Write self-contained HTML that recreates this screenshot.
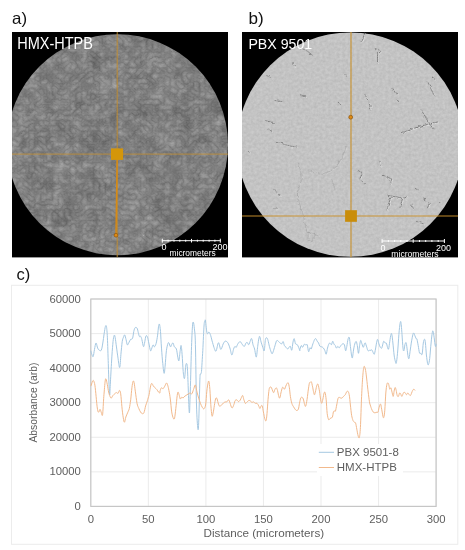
<!DOCTYPE html>
<html><head><meta charset="utf-8"><title>Figure</title>
<style>
html,body{margin:0;padding:0;background:#fff;}
body{width:465px;height:550px;position:relative;overflow:hidden;font-family:"Liberation Sans",sans-serif;}
svg{position:absolute;left:0;top:0;}
text{font-family:"Liberation Sans",sans-serif;}
</style></head><body>
<svg width="465" height="550" viewBox="0 0 465 550">
<defs>
<filter id="na" x="0" y="0" width="100%" height="100%" color-interpolation-filters="sRGB">
<feTurbulence type="turbulence" baseFrequency="0.17 0.19" numOctaves="2" seed="7"/>
<feColorMatrix type="matrix" values="0.2 0 0 0 0.31  0.2 0 0 0 0.31  0.2 0 0 0 0.31  0 0 0 0 1" result="t"/>
<feTurbulence type="fractalNoise" baseFrequency="0.04" numOctaves="2" seed="3"/>
<feColorMatrix type="matrix" values="0.12 0 0 0 0  0.12 0 0 0 0  0.12 0 0 0 0  0 0 0 0 1" result="f"/>
<feTurbulence type="fractalNoise" baseFrequency="0.11" numOctaves="1" seed="12"/>
<feColorMatrix type="matrix" values="0.16 0 0 0 0  0.16 0 0 0 0  0.16 0 0 0 0  0 0 0 0 1" result="g"/>
<feComposite in="t" in2="f" operator="arithmetic" k1="0" k2="1" k3="1" k4="0" result="tf"/>
<feComposite in="tf" in2="g" operator="arithmetic" k1="0" k2="1" k3="1" k4="0"/>
<feComposite in2="SourceGraphic" operator="in"/>
</filter>
<filter id="nb" x="0" y="0" width="100%" height="100%" color-interpolation-filters="sRGB">
<feTurbulence type="fractalNoise" baseFrequency="0.35" numOctaves="2" seed="11" result="n"/>
<feColorMatrix in="n" type="matrix" values="0.10 0 0 0 0.715  0.10 0 0 0 0.715  0.10 0 0 0 0.715  0 0 0 0 1"/>
<feComposite in2="SourceGraphic" operator="in"/>
</filter>
<filter id="wig" x="-5%" y="-5%" width="110%" height="110%">
<feTurbulence type="fractalNoise" baseFrequency="0.25" numOctaves="2" seed="5" result="w"/>
<feDisplacementMap in="SourceGraphic" in2="w" scale="3.2" xChannelSelector="R" yChannelSelector="G"/>
</filter>
<clipPath id="ca"><rect x="12" y="32" width="216" height="225.4"/></clipPath>
<clipPath id="cb"><rect x="242" y="32" width="216" height="225.4"/></clipPath>
</defs>
<!-- panel labels -->
<text x="12" y="23.7" font-size="16.5" fill="#111" textLength="15" lengthAdjust="spacingAndGlyphs">a)</text>
<text x="248.4" y="23.7" font-size="16.5" fill="#111" textLength="15.2" lengthAdjust="spacingAndGlyphs">b)</text>
<text x="16.6" y="280" font-size="16.5" fill="#111" textLength="13.8" lengthAdjust="spacingAndGlyphs">c)</text>
<!-- image a -->
<rect x="12" y="32" width="216" height="225.4" fill="#000"/>
<g clip-path="url(#ca)">
<circle cx="117.5" cy="144.75" r="110.5" fill="#7e7e7e" filter="url(#na)"/>
<line x1="117.3" y1="32" x2="117.3" y2="257.4" stroke="#c8902c" stroke-width="1.5" opacity="0.6"/>
<line x1="12" y1="154.2" x2="228" y2="154.2" stroke="#c8902c" stroke-width="1.3" opacity="0.6"/>
<line x1="117.2" y1="158" x2="116" y2="235" stroke="#d68a16" stroke-width="1.5"/>
<rect x="111" y="148.4" width="12.1" height="11.5" fill="#d4960a"/>
<circle cx="116" cy="235.2" r="1.9" fill="#e08a12" stroke="#8a5510" stroke-width="0.7"/>
</g>
<text x="17.2" y="48.5" font-size="15.7" fill="#fff" textLength="75.8" lengthAdjust="spacingAndGlyphs">HMX-HTPB</text>
<g stroke="#fff" stroke-width="1" fill="none">
<line x1="162" y1="240.7" x2="220.6" y2="240.7"/>
<path d="M162.3,238.7v4 M220.3,238.7v4 M168.1,239.7v2 M174,239.7v2 M179.8,239.7v2 M185.7,239.7v2 M191.5,238.9v3.6 M197.4,239.7v2 M203.2,239.7v2 M209.1,239.7v2 M214.9,239.7v2"/>
</g>
<text x="161.5" y="250.4" font-size="9" fill="#fff">0</text>
<text x="227.6" y="250.4" font-size="9" fill="#fff" text-anchor="end">200</text>
<text x="192.6" y="256.3" font-size="8.4" fill="#fff" text-anchor="middle">micrometers</text>
<!-- image b -->
<rect x="242" y="32" width="216" height="225.4" fill="#000"/>
<g clip-path="url(#cb)">
<ellipse cx="350.3" cy="144.6" rx="113.2" ry="112.2" fill="#bebebe" filter="url(#nb)"/>
<g filter="url(#wig)"><g fill="none" stroke="#f4f4f4" stroke-width="0.9" stroke-linecap="round" opacity="0.55" stroke-dasharray="1.6 1.1" transform="translate(0.8,0.7)">
<path d="M301,48.5Q307,50 313,55.7 M292.9,62.8L295.2,67.5 M266.8,75.8L272.8,78.1 M345,74.6L347.3,77 M301,94.7L304.7,95.9 M275,100.6L281,101.8 M337.8,101.8L341.4,105.3 M265.7,120.7L274,123 M268,129L271.6,131.4
M364.6,33.2L362.2,41.5 M375.2,48.6L381,51L377.6,54.5L377.6,62.8 M364.6,93.5L369.3,103L370.5,108.9 M393,88.8L396.5,94.7 M397.2,100.6L398.2,100.8 M428.4,82.9L434.3,95.9 M421.3,110L428.4,121.9L433.2,129 M402.4,132.5L419,126.6L437.9,121.9 M432,77L434.3,79.3
M277.5,142.4L289.3,145.9L296.4,147.1 M248.6,151.5L249.6,152.1 M273.9,189.7L276.3,191.6 M278.7,194.4L279.9,196.8 M275.1,208.6L277,210.5
M380,161.3L381.1,166 M358.6,170.8L362.2,173.1L359.8,179L364.6,183.8 M383.5,175.5L391.8,179L390.6,183.8 M388.2,195.6L395.3,196.8L404.8,198L407.1,196.8 M390.6,198L388.2,205.1L387,211 M402.4,199.1L400,207.4 M415.4,188.5L419,190.9 M423.7,199.1L429.6,202.7L427.3,208.6 M440.3,202.7L442.6,203.9 M411.9,205.1L413.1,208.6 M416.6,221.6L423.7,224"/>
<path stroke-width="0.5" opacity="0.6" d="M298.8,163.7Q302,175 301.1,182.6Q297,190 297.6,196.8L303.5,215.7L307,232.3L317.7,235.8 M308.2,232.3L315.3,234.6L313,241.7L308.2,240.5Z M308.2,170.8L320,174.3Q332,172 336.6,166Q343,157 346,147.1 M331.9,180.2L335.4,189.7"/>
</g><g id="cracks" fill="none" stroke="#2a2a2a" stroke-width="0.9" stroke-linecap="round" opacity="0.5" stroke-dasharray="1.6 1.1">
<path d="M301,48.5Q307,50 313,55.7 M292.9,62.8L295.2,67.5 M266.8,75.8L272.8,78.1 M345,74.6L347.3,77 M301,94.7L304.7,95.9 M275,100.6L281,101.8 M337.8,101.8L341.4,105.3 M265.7,120.7L274,123 M268,129L271.6,131.4
M364.6,33.2L362.2,41.5 M375.2,48.6L381,51L377.6,54.5L377.6,62.8 M364.6,93.5L369.3,103L370.5,108.9 M393,88.8L396.5,94.7 M397.2,100.6L398.2,100.8 M428.4,82.9L434.3,95.9 M421.3,110L428.4,121.9L433.2,129 M402.4,132.5L419,126.6L437.9,121.9 M432,77L434.3,79.3
M277.5,142.4L289.3,145.9L296.4,147.1 M248.6,151.5L249.6,152.1 M273.9,189.7L276.3,191.6 M278.7,194.4L279.9,196.8 M275.1,208.6L277,210.5
M380,161.3L381.1,166 M358.6,170.8L362.2,173.1L359.8,179L364.6,183.8 M383.5,175.5L391.8,179L390.6,183.8 M388.2,195.6L395.3,196.8L404.8,198L407.1,196.8 M390.6,198L388.2,205.1L387,211 M402.4,199.1L400,207.4 M415.4,188.5L419,190.9 M423.7,199.1L429.6,202.7L427.3,208.6 M440.3,202.7L442.6,203.9 M411.9,205.1L413.1,208.6 M416.6,221.6L423.7,224"/>
<path stroke-width="0.5" opacity="0.6" d="M298.8,163.7Q302,175 301.1,182.6Q297,190 297.6,196.8L303.5,215.7L307,232.3L317.7,235.8 M308.2,232.3L315.3,234.6L313,241.7L308.2,240.5Z M308.2,170.8L320,174.3Q332,172 336.6,166Q343,157 346,147.1 M331.9,180.2L335.4,189.7"/>
</g></g>
<line x1="351" y1="32" x2="351" y2="257.4" stroke="#c8902c" stroke-width="1.7" opacity="0.64"/>
<line x1="242" y1="216" x2="458" y2="216" stroke="#c8902c" stroke-width="1.5" opacity="0.64"/>
<rect x="345.1" y="210.2" width="11.8" height="11.6" fill="#c98d0a"/>
<circle cx="350.7" cy="117.2" r="1.9" fill="#e08a12" stroke="#8a5510" stroke-width="0.7"/>
</g>
<text x="248.4" y="48.5" font-size="15.5" fill="#fff" textLength="63.8" lengthAdjust="spacingAndGlyphs">PBX 9501</text>
<g stroke="#fff" stroke-width="1" fill="none">
<line x1="381.8" y1="241" x2="444.7" y2="241"/>
<path d="M382.1,239v4 M444.4,239v4 M388.3,240v2 M394.6,240v2 M400.8,240v2 M407,240v2 M413.2,239.2v3.6 M419.5,240v2 M425.7,240v2 M431.9,240v2 M438.2,240v2"/>
</g>
<text x="380.6" y="250.6" font-size="9" fill="#fff">0</text>
<text x="451" y="250.6" font-size="9" fill="#fff" text-anchor="end">200</text>
<text x="415" y="256.6" font-size="8.6" fill="#fff" text-anchor="middle">micrometers</text>
<!-- chart -->
<rect x="11.5" y="285.3" width="446.3" height="259" fill="#fff" stroke="#ececec" stroke-width="1"/>
<g stroke="#e9e9e9" stroke-width="0.9"><line x1="90.8" y1="506.40" x2="436.1" y2="506.40"/><line x1="90.8" y1="471.83" x2="436.1" y2="471.83"/><line x1="90.8" y1="437.27" x2="436.1" y2="437.27"/><line x1="90.8" y1="402.70" x2="436.1" y2="402.70"/><line x1="90.8" y1="368.13" x2="436.1" y2="368.13"/><line x1="90.8" y1="333.57" x2="436.1" y2="333.57"/><line x1="90.8" y1="299.00" x2="436.1" y2="299.00"/><line x1="90.80" y1="299.0" x2="90.80" y2="506.4"/><line x1="148.35" y1="299.0" x2="148.35" y2="506.4"/><line x1="205.90" y1="299.0" x2="205.90" y2="506.4"/><line x1="263.45" y1="299.0" x2="263.45" y2="506.4"/><line x1="321.00" y1="299.0" x2="321.00" y2="506.4"/><line x1="378.55" y1="299.0" x2="378.55" y2="506.4"/><line x1="436.10" y1="299.0" x2="436.10" y2="506.4"/></g>
<rect x="90.8" y="299.0" width="345.3" height="207.4" fill="none" stroke="#c4c4c4" stroke-width="1.1"/>
<path d="M90.8,350.7C91.0,351.4 91.5,353.6 91.9,354.6C92.3,355.5 92.7,357.4 93.2,356.5C93.6,355.7 94.0,351.7 94.5,349.4C94.9,347.2 95.5,343.2 96.0,343.0C96.5,342.8 97.1,346.9 97.7,348.1C98.2,349.4 98.8,350.0 99.4,350.3C100.0,350.6 100.7,351.3 101.3,350.1C101.9,348.8 102.4,345.7 102.8,343.0C103.3,340.3 103.7,336.7 104.1,333.9C104.6,331.2 105.0,327.6 105.4,326.5C105.8,325.3 106.1,324.9 106.5,326.8C106.8,328.7 107.1,331.7 107.4,337.8C107.7,343.9 108.0,355.9 108.3,363.6C108.5,371.4 108.8,379.0 109.0,384.3C109.3,389.5 109.5,395.0 109.7,395.0C109.9,395.0 110.0,389.9 110.3,384.3C110.6,378.6 111.2,367.7 111.6,361.0C112.0,354.4 112.4,348.3 112.8,344.3C113.1,340.2 113.5,337.9 113.8,336.5C114.2,335.1 114.5,334.6 114.8,335.9C115.2,337.2 115.7,340.9 116.1,344.3C116.6,347.6 117.1,352.0 117.7,355.9C118.3,359.7 119.1,367.7 119.6,367.5C120.2,367.3 120.5,358.9 120.9,354.6C121.3,350.3 121.8,344.6 122.2,341.7C122.6,338.8 123.1,338.3 123.5,337.2C123.9,336.0 124.3,334.5 124.8,335.0C125.2,335.4 125.6,338.1 126.1,339.7C126.5,341.4 126.9,344.5 127.4,344.9C127.8,345.3 128.5,343.2 129.0,342.3C129.6,341.4 130.0,340.0 130.6,339.4C131.2,338.7 132.0,339.8 132.5,338.5C133.1,337.1 133.4,333.1 133.8,331.4C134.2,329.6 134.6,328.3 135.1,327.7C135.6,327.2 136.5,327.3 137.0,328.1C137.6,328.9 137.9,331.2 138.3,332.6C138.7,334.0 139.0,335.9 139.4,336.5C139.7,337.1 140.2,335.7 140.6,336.3C141.1,336.8 141.5,338.0 141.9,339.7C142.4,341.5 143.0,346.3 143.5,346.6C144.0,346.9 144.4,343.5 144.8,341.7C145.2,339.9 145.5,336.6 146.0,335.9C146.5,335.1 147.1,336.0 147.5,337.2C148.0,338.3 148.3,340.7 148.8,343.0C149.3,345.2 150.0,349.8 150.5,350.7C151.0,351.6 151.4,349.1 151.8,348.1C152.2,347.2 152.7,345.1 153.1,344.9C153.5,344.7 153.9,347.1 154.4,346.8C154.9,346.6 155.5,345.5 156.1,343.6C156.6,341.7 157.2,338.1 157.6,335.2C158.0,332.3 158.3,328.0 158.6,326.2C159.0,324.4 159.2,323.4 159.5,324.3C159.8,325.1 160.1,327.4 160.5,331.4C160.8,335.3 161.1,342.8 161.5,348.1C161.9,353.5 162.3,359.4 162.8,363.6C163.2,367.8 163.7,372.9 164.1,373.3C164.5,373.7 164.7,370.0 165.1,366.2C165.5,362.4 165.9,354.5 166.4,350.7C166.9,346.9 167.5,344.9 167.9,343.6C168.4,342.3 168.5,342.4 169.0,343.0C169.4,343.5 170.0,346.6 170.5,346.8C171.0,347.1 171.4,344.9 171.8,344.3C172.2,343.6 172.7,342.5 173.1,343.0C173.5,343.4 173.8,345.9 174.4,346.8C174.9,347.8 175.8,347.3 176.3,348.8C176.9,350.3 177.2,353.9 177.6,355.9C178.0,357.9 178.5,361.6 178.9,360.8C179.3,359.9 179.8,353.2 180.2,350.7C180.6,348.2 180.8,344.9 181.1,345.5C181.4,346.2 181.8,350.3 182.1,354.6C182.5,358.9 182.8,367.4 183.2,371.4C183.5,375.3 184.0,379.3 184.5,378.5C184.9,377.6 185.4,368.7 185.7,366.2C186.1,363.7 186.3,363.0 186.6,363.6C186.9,364.3 187.1,362.0 187.5,370.1C188.0,378.1 188.8,407.5 189.2,411.9C189.7,416.3 189.7,406.6 190.1,396.4C190.5,386.2 191.0,362.4 191.4,350.7C191.8,339.0 192.1,330.9 192.5,326.2C192.8,321.5 193.0,321.9 193.4,322.3C193.7,322.8 194.0,325.1 194.4,328.8C194.7,332.4 195.1,331.6 195.4,344.3C195.8,357.0 196.1,391.0 196.5,405.0C196.9,419.0 197.5,425.4 197.8,428.2C198.2,431.1 198.4,430.4 198.7,422.2C199.1,414.0 199.6,387.2 199.9,379.2C200.2,371.2 200.3,375.4 200.6,374.0C200.9,372.7 201.1,375.2 201.5,371.4C201.8,367.5 202.3,358.5 202.8,350.7C203.2,343.0 203.7,329.9 204.1,324.9C204.5,319.9 204.9,321.4 205.1,320.8C205.3,320.1 205.1,318.9 205.5,321.0C205.8,323.1 206.5,331.4 207.1,333.3C207.7,335.1 208.4,331.7 209.0,332.1C209.6,332.5 210.1,333.9 210.7,335.6C211.3,337.4 211.9,340.6 212.6,342.7C213.2,344.9 213.9,347.3 214.4,348.6C215.0,350.0 215.4,352.0 216.1,351.0C216.8,350.0 217.7,343.0 218.5,342.7C219.3,342.5 220.0,349.2 220.8,349.4C221.6,349.5 222.5,345.3 223.2,343.9C223.9,342.6 224.4,341.6 225.0,341.2C225.6,340.9 226.1,341.2 226.7,341.6C227.3,342.0 227.9,342.6 228.4,343.8C229.0,345.1 229.6,347.1 230.2,349.0C230.7,350.9 231.3,355.0 231.9,355.0C232.5,355.0 233.1,350.4 233.6,349.0C234.1,347.6 234.5,346.7 235.0,346.4C235.4,346.1 235.7,347.7 236.2,347.3C236.7,346.8 237.2,344.8 237.9,343.8C238.6,342.9 239.4,341.5 240.1,341.6C240.9,341.7 241.5,343.5 242.2,344.3C242.9,345.1 243.6,346.6 244.3,346.4C244.9,346.2 245.5,343.6 246.0,343.0C246.5,342.3 246.9,342.3 247.4,342.6C247.8,342.9 248.2,345.1 248.7,344.7C249.3,344.3 250.0,341.4 250.5,340.4C250.9,339.4 251.2,337.9 251.7,338.7C252.1,339.4 252.6,343.0 253.0,344.7C253.5,346.4 254.0,346.9 254.6,349.0C255.1,351.1 255.8,357.5 256.3,357.1C256.8,356.6 257.2,349.7 257.7,346.4C258.1,343.1 258.7,339.0 259.1,337.5C259.4,335.9 259.6,336.2 259.9,336.9C260.3,337.7 260.6,340.4 261.1,342.1C261.6,343.8 262.3,345.8 262.8,347.3C263.4,348.7 263.8,352.0 264.2,350.7C264.7,349.4 265.0,341.7 265.4,339.5C265.9,337.4 266.4,337.7 266.8,337.8C267.2,337.9 267.6,339.0 268.0,340.4C268.4,341.8 268.9,344.5 269.4,346.4C269.9,348.3 270.6,350.7 271.1,351.9C271.6,353.1 271.8,354.1 272.3,353.6C272.8,353.1 273.5,350.8 274.0,349.0C274.6,347.2 275.3,344.4 275.8,343.0C276.2,341.5 276.5,340.6 277.0,340.4C277.4,340.2 278.1,341.1 278.7,341.6C279.3,342.1 279.9,342.9 280.4,343.3C280.9,343.7 281.3,344.1 281.8,343.8C282.2,343.5 282.7,341.3 283.2,341.6C283.6,341.9 283.9,344.6 284.4,345.5C284.8,346.5 285.5,346.7 286.1,347.3C286.6,347.8 287.3,349.0 287.8,349.0C288.3,349.0 288.6,347.7 289.0,347.3C289.4,346.8 289.9,345.9 290.4,346.4C290.8,346.9 291.3,350.9 291.8,350.2C292.2,349.5 292.6,344.0 293.0,342.1C293.4,340.2 293.7,338.4 294.2,338.7C294.6,339.0 295.0,342.8 295.5,343.8C296.1,344.8 296.7,344.1 297.3,344.7C297.8,345.3 298.2,346.3 298.6,347.3C299.1,348.3 299.6,350.4 299.8,350.7C300.1,351.0 299.7,349.8 300.0,349.0C300.3,348.1 300.9,345.8 301.4,345.5C301.8,345.3 302.1,347.5 302.6,347.3C303.1,347.1 303.7,344.7 304.3,344.3C304.9,344.0 305.5,345.0 306.0,345.0C306.5,345.1 306.8,343.6 307.2,344.7C307.7,345.8 308.1,351.1 308.6,351.6C309.1,352.1 309.5,348.2 310.0,347.8C310.4,347.4 310.7,349.6 311.2,349.0C311.7,348.3 312.3,345.4 312.9,343.8C313.5,342.3 314.1,340.4 314.6,339.5C315.1,338.7 315.4,338.4 315.8,338.7C316.3,339.0 316.7,340.5 317.2,341.2C317.7,342.0 318.2,342.2 318.6,343.0C319.0,343.8 319.3,345.4 319.8,346.1C320.3,346.7 320.9,346.5 321.5,346.8C322.1,347.0 322.7,347.1 323.2,347.8C323.8,348.4 324.5,349.6 324.9,350.7C325.4,351.8 325.7,354.6 326.2,354.2C326.6,353.7 327.1,349.8 327.5,348.1C328.0,346.4 328.5,344.6 328.9,343.8C329.3,343.0 329.7,343.2 330.1,343.3C330.5,343.5 331.1,345.0 331.5,344.7C331.9,344.3 332.3,341.3 332.7,341.2C333.1,341.2 333.6,343.6 334.1,344.3C334.5,345.1 334.9,344.9 335.3,345.5C335.7,346.2 336.0,348.0 336.5,348.1C336.9,348.3 337.4,346.5 337.8,346.4C338.3,346.4 338.7,347.9 339.2,347.8C339.7,347.6 340.4,346.2 340.9,345.5C341.5,344.9 342.1,344.0 342.7,343.8C343.2,343.7 343.9,343.5 344.4,344.7C344.9,345.8 345.2,350.4 345.6,350.7C346.0,351.0 346.4,348.4 346.8,346.4C347.2,344.4 347.7,340.1 348.2,338.7C348.6,337.2 349.0,336.5 349.4,337.8C349.7,339.1 350.0,343.4 350.4,346.4C350.8,349.4 351.3,354.0 351.6,355.9C352.0,357.7 352.1,358.7 352.5,357.6C352.8,356.4 353.2,351.4 353.7,349.0C354.1,346.6 354.6,344.2 355.1,343.0C355.5,341.7 355.9,341.2 356.3,341.6C356.6,342.0 356.9,343.6 357.3,345.5C357.7,347.5 358.1,353.4 358.5,353.3C358.9,353.1 359.3,346.8 359.7,344.7C360.1,342.5 360.4,340.5 360.7,340.4C361.1,340.2 361.5,342.7 361.9,343.8C362.4,345.0 362.9,347.3 363.3,347.3C363.7,347.3 364.2,344.5 364.5,343.8C364.9,343.1 365.0,342.4 365.4,343.0C365.7,343.5 366.3,346.0 366.8,347.3C367.2,348.6 367.5,350.2 368.0,350.7C368.4,351.2 369.3,350.2 369.7,350.2C370.0,350.2 369.7,350.8 370.0,350.7C370.3,350.7 371.2,349.6 371.7,349.8C372.2,350.1 372.7,351.7 373.1,352.4C373.5,353.1 373.9,354.7 374.3,354.2C374.7,353.6 375.1,351.1 375.5,349.0C375.9,346.8 376.5,342.8 376.9,341.2C377.3,339.7 377.4,339.1 377.7,339.5C378.1,340.0 378.5,342.5 378.9,343.8C379.4,345.1 379.9,346.6 380.3,347.3C380.8,348.0 381.3,348.7 381.7,348.1C382.1,347.6 382.6,345.0 382.9,343.8C383.2,342.7 383.4,341.4 383.8,341.2C384.1,341.1 384.7,342.7 385.1,343.0C385.6,343.3 385.9,342.3 386.3,343.0C386.7,343.7 387.2,346.3 387.5,347.3C387.9,348.3 388.2,350.0 388.6,349.0C389.0,348.0 389.4,343.7 389.8,341.2C390.2,338.8 390.6,335.5 391.0,334.4C391.3,333.2 391.5,332.9 391.8,334.4C392.2,335.8 392.5,339.5 392.9,343.0C393.3,346.4 393.7,351.9 394.1,355.0C394.5,358.2 395.1,360.6 395.5,361.9C395.8,363.2 396.0,364.2 396.3,362.8C396.7,361.3 397.1,358.0 397.5,353.3C398.0,348.6 398.5,339.4 398.9,334.4C399.3,329.3 399.8,325.1 400.1,323.2C400.5,321.2 400.7,320.8 401.0,322.7C401.3,324.5 401.7,330.1 402.0,334.4C402.3,338.6 402.7,345.4 403.0,348.1C403.3,350.9 403.6,351.3 403.9,350.7C404.2,350.1 404.6,346.0 404.9,344.7C405.3,343.3 405.8,342.1 406.1,342.6C406.5,343.2 406.6,345.7 407.0,348.1C407.3,350.5 407.8,355.4 408.2,357.1C408.5,358.7 408.7,359.5 409.1,358.1C409.4,356.8 409.9,352.4 410.4,349.0C410.9,345.6 411.6,340.5 412.2,337.8C412.7,335.1 413.1,333.4 413.5,333.0C414.0,332.6 414.3,334.3 414.7,335.2C415.2,336.2 415.7,338.0 416.1,338.7C416.5,339.3 416.6,338.0 417.0,339.2C417.3,340.3 417.7,343.3 418.2,345.5C418.6,347.8 419.1,351.7 419.5,352.9C420.0,354.2 420.3,353.1 420.8,353.3C421.2,353.5 421.7,355.9 422.1,354.2C422.6,352.4 422.9,345.5 423.3,343.0C423.7,340.5 424.2,339.2 424.5,339.2C424.9,339.2 425.1,340.3 425.4,343.0C425.7,345.6 426.1,351.6 426.4,355.0C426.8,358.5 427.3,362.0 427.6,363.6C428.0,365.2 428.2,365.3 428.5,364.5C428.8,363.6 429.3,362.0 429.7,358.5C430.1,354.9 430.6,347.3 431.1,343.0C431.5,338.7 431.9,334.6 432.3,332.6C432.6,330.7 432.8,330.4 433.1,331.3C433.5,332.1 433.8,335.3 434.2,337.8C434.5,340.3 435.0,345.4 435.4,346.4C435.7,347.4 436.1,344.3 436.2,343.8" fill="none" stroke="#a5c8e2" stroke-width="1" stroke-linejoin="round"/>
<path d="M90.9,386.1C91.2,385.4 91.9,382.7 92.3,381.8C92.7,380.9 93.1,380.0 93.5,380.6C93.9,381.2 94.5,382.6 94.9,385.2C95.3,387.9 95.7,392.4 96.1,396.4C96.5,400.4 97.0,406.7 97.5,409.3C97.9,411.9 98.2,412.2 98.7,412.2C99.1,412.2 99.6,409.2 100.0,409.3C100.5,409.4 101.0,411.9 101.4,412.8C101.8,413.6 102.2,417.2 102.6,414.5C103.0,411.7 103.4,402.0 103.8,396.4C104.3,390.8 104.8,383.8 105.2,380.9C105.6,378.1 105.7,378.6 106.1,379.2C106.4,379.8 106.8,382.2 107.3,384.4C107.7,386.5 108.2,390.1 108.6,392.1C109.1,394.1 109.6,395.4 110.0,396.4C110.5,397.4 110.7,398.3 111.2,398.1C111.7,398.0 112.4,396.3 112.9,395.5C113.5,394.8 114.1,394.3 114.7,393.8C115.2,393.3 115.8,392.7 116.4,392.6C117.0,392.5 117.6,393.7 118.1,393.3C118.6,392.9 119.1,390.3 119.5,390.4C119.9,390.5 120.3,391.1 120.7,393.8C121.1,396.6 121.5,402.7 121.9,406.7C122.3,410.7 122.8,415.3 123.3,417.9C123.7,420.5 124.0,422.4 124.5,422.2C124.9,422.1 125.3,418.6 125.8,417.1C126.4,415.5 127.0,414.2 127.6,412.8C128.1,411.3 128.8,410.6 129.3,408.5C129.8,406.3 130.2,403.3 130.7,399.8C131.1,396.4 131.5,390.9 131.9,387.8C132.3,384.7 132.7,382.1 133.1,381.3C133.4,380.4 133.7,381.0 134.1,382.6C134.5,384.3 134.8,387.8 135.3,391.2C135.8,394.7 136.5,400.4 137.0,403.3C137.6,406.2 138.2,407.0 138.8,408.5C139.3,409.9 139.9,411.0 140.5,411.9C141.0,412.8 141.6,413.5 142.2,413.6C142.8,413.8 143.3,414.0 143.9,412.8C144.5,411.5 145.1,407.9 145.6,405.9C146.2,403.9 146.8,402.6 147.4,400.7C147.9,398.8 148.5,397.3 149.1,394.7C149.6,392.1 150.3,387.1 150.8,385.2C151.3,383.4 151.6,383.4 152.0,383.5C152.4,383.6 152.9,385.4 153.4,386.1C153.9,386.8 154.5,387.2 155.1,387.8C155.7,388.4 156.2,388.8 156.8,389.5C157.4,390.2 158.0,391.5 158.5,392.1C159.1,392.7 159.7,393.1 159.9,393.0C160.2,392.8 159.8,392.1 160.0,391.2C160.2,390.4 160.9,388.2 161.4,387.8C161.9,387.4 162.5,389.0 163.1,388.7C163.7,388.4 164.2,387.0 164.8,386.1C165.4,385.1 166.1,383.1 166.5,383.0C167.0,382.8 167.3,384.0 167.7,385.2C168.1,386.5 168.5,388.1 168.9,390.4C169.4,392.7 169.9,395.4 170.3,399.0C170.8,402.6 171.2,408.7 171.7,411.9C172.2,415.1 172.9,417.4 173.4,418.4C173.9,419.4 174.2,419.6 174.6,417.9C175.0,416.3 175.4,412.2 175.8,408.5C176.3,404.7 176.8,398.3 177.2,395.5C177.6,392.8 177.7,392.1 178.1,392.1C178.4,392.1 178.9,394.4 179.3,395.5C179.6,396.7 179.9,398.7 180.3,399.0C180.7,399.3 181.0,397.5 181.5,397.3C182.0,397.1 182.7,398.0 183.2,397.8C183.8,397.6 184.4,396.5 184.9,396.1C185.5,395.6 186.1,395.4 186.7,395.0C187.2,394.7 187.8,394.2 188.4,393.8C189.0,393.5 189.5,393.0 190.1,393.0C190.7,393.0 191.3,394.4 191.8,393.8C192.4,393.3 193.0,391.0 193.5,389.5C194.1,388.1 194.6,385.8 194.9,385.2C195.3,384.7 195.4,384.9 195.8,386.1C196.1,387.2 196.5,390.1 197.0,392.1C197.5,394.1 198.1,396.3 198.7,398.1C199.3,400.0 199.9,401.8 200.4,403.3C201.0,404.8 201.6,406.2 202.2,407.1C202.7,408.0 203.3,409.1 203.9,408.8C204.4,408.5 205.1,407.9 205.6,405.0C206.1,402.1 206.4,395.0 206.8,391.2C207.2,387.5 207.8,383.9 208.2,382.3C208.5,380.7 208.7,380.6 209.0,381.8C209.3,383.0 209.5,385.1 209.9,389.5C210.2,394.0 210.7,404.0 211.1,408.5C211.5,412.9 211.8,415.6 212.1,416.2C212.5,416.8 212.9,414.0 213.3,411.9C213.8,409.7 214.3,405.6 214.7,403.3C215.1,401.0 215.5,398.8 215.9,398.1C216.3,397.4 216.7,398.0 217.1,399.0C217.5,400.0 218.0,402.9 218.5,404.2C219.0,405.4 219.4,406.3 219.9,406.4C220.4,406.5 221.0,405.2 221.6,404.7C222.2,404.2 222.7,403.7 223.3,403.3C223.9,402.8 224.5,402.1 225.0,401.9C225.6,401.7 226.2,402.3 226.8,401.9C227.3,401.6 228.0,399.8 228.5,399.8C229.0,399.8 229.2,400.7 229.7,401.9C230.2,403.1 230.9,406.1 231.4,407.1C231.9,408.0 232.1,408.2 232.6,407.6C233.1,407.0 233.9,404.4 234.3,403.3C234.7,402.1 234.6,401.3 235.0,400.7C235.4,400.1 236.1,399.7 236.7,399.8C237.3,400.0 237.9,401.5 238.4,401.6C239.0,401.6 239.6,400.9 240.2,400.2C240.7,399.5 241.1,398.0 241.5,397.3C242.0,396.5 242.3,395.1 242.7,395.5C243.1,396.0 243.5,398.6 243.9,399.8C244.4,401.1 244.9,402.9 245.3,403.3C245.8,403.7 246.2,402.9 246.7,402.4C247.2,402.0 247.8,401.0 248.4,400.7C249.0,400.4 249.6,400.4 250.1,400.7C250.7,401.0 251.3,402.2 251.9,402.4C252.4,402.6 253.0,401.8 253.6,401.9C254.2,402.1 254.7,403.1 255.3,403.3C255.9,403.5 256.4,402.9 257.0,403.3C257.6,403.7 258.3,405.0 258.7,405.9C259.2,406.7 259.5,408.5 259.9,408.5C260.3,408.5 260.8,406.3 261.2,405.9C261.5,405.4 261.8,404.9 262.2,405.9C262.6,406.9 263.0,409.9 263.4,411.9C263.8,413.9 264.2,416.4 264.6,417.9C265.0,419.4 265.6,421.6 266.0,420.8C266.4,420.1 266.7,417.1 267.0,413.6C267.3,410.1 267.7,403.9 268.0,399.8C268.4,395.8 268.7,391.7 269.1,389.5C269.4,387.4 269.9,387.2 270.3,386.9C270.7,386.7 271.0,387.1 271.5,387.8C271.9,388.5 272.5,390.4 272.8,391.2C273.2,392.1 273.4,392.9 273.7,392.6C274.1,392.3 274.5,390.3 274.9,389.5C275.3,388.7 275.9,387.7 276.3,387.8C276.7,387.9 277.1,389.1 277.5,390.4C277.9,391.7 278.2,394.3 278.5,395.5C278.9,396.8 279.3,398.6 279.7,398.1C280.1,397.7 280.5,394.7 280.9,393.0C281.4,391.2 281.9,388.7 282.3,387.8C282.7,386.9 282.8,387.2 283.2,387.5C283.5,387.7 284.1,389.4 284.5,389.2C285.0,389.0 285.3,387.0 285.8,386.1C286.2,385.1 286.7,384.0 287.1,383.5C287.6,383.0 288.0,382.3 288.3,383.0C288.7,383.7 289.0,385.6 289.4,387.8C289.7,390.0 290.0,393.8 290.4,396.4C290.8,399.0 291.3,401.6 291.8,403.3C292.3,405.0 292.9,405.7 293.5,406.7C294.1,407.7 294.7,408.7 295.2,409.3C295.7,409.9 296.1,410.5 296.6,410.5C297.1,410.5 297.8,410.5 298.3,409.3C298.8,408.1 299.1,405.2 299.5,403.3C299.9,401.4 300.3,399.1 300.7,398.1C301.2,397.1 301.7,397.1 302.1,397.3C302.5,397.4 302.9,398.0 303.3,399.0C303.7,400.0 304.0,402.1 304.3,403.3C304.7,404.5 305.1,406.7 305.5,406.4C305.9,406.1 306.3,404.1 306.7,401.6C307.2,399.0 307.7,394.3 308.1,391.2C308.5,388.2 309.0,384.9 309.3,383.5C309.6,382.1 309.7,382.9 310.0,382.6C310.3,382.4 310.9,381.1 311.4,381.8C311.8,382.5 312.1,384.8 312.6,386.9C313.1,389.1 313.8,394.1 314.3,394.7C314.8,395.3 315.2,392.0 315.7,390.4C316.1,388.8 316.5,386.2 316.9,385.2C317.3,384.2 317.7,383.4 318.1,384.4C318.5,385.4 319.0,388.7 319.5,391.2C319.9,393.8 320.3,397.8 320.7,399.8C321.0,401.9 321.3,403.4 321.7,403.3C322.1,403.1 322.5,400.7 322.9,399.0C323.3,397.3 323.7,394.0 324.1,393.0C324.5,391.9 324.8,391.5 325.1,392.6C325.5,393.8 325.8,396.4 326.2,399.8C326.5,403.3 326.8,410.3 327.2,413.6C327.6,416.9 328.2,418.8 328.6,419.6C329.0,420.5 329.4,419.1 329.8,418.8C330.2,418.5 330.6,418.2 331.0,417.9C331.4,417.6 332.0,418.1 332.4,417.1C332.8,416.1 333.1,412.9 333.4,411.9C333.7,410.9 334.1,411.2 334.4,411.0C334.8,410.9 335.1,412.0 335.5,411.0C335.8,410.0 336.3,407.0 336.7,405.0C337.1,403.0 337.5,400.3 337.9,399.0C338.2,397.7 338.5,397.5 338.9,397.3C339.3,397.1 339.6,397.6 340.1,397.8C340.6,397.9 341.3,398.4 341.8,398.1C342.4,397.9 343.0,397.0 343.5,396.4C344.1,395.8 344.8,395.4 345.3,394.7C345.8,394.0 346.0,392.7 346.5,392.1C346.9,391.5 347.4,390.8 347.8,391.2C348.3,391.7 348.8,392.4 349.2,394.7C349.7,397.0 350.0,401.6 350.4,405.0C350.8,408.5 351.2,412.8 351.6,415.3C352.1,417.9 352.6,419.3 353.0,420.5C353.5,421.6 354.0,421.8 354.4,422.2C354.8,422.6 355.2,421.9 355.6,423.1C356.0,424.2 356.4,426.9 356.8,429.1C357.2,431.2 357.7,434.6 358.2,436.0C358.6,437.4 359.0,438.8 359.4,437.4C359.7,435.9 360.0,434.2 360.4,427.4C360.8,420.6 361.2,405.0 361.6,396.4C362.0,387.8 362.4,380.6 362.8,375.8C363.2,370.9 363.5,368.6 363.8,367.2C364.2,365.7 364.4,366.3 364.7,367.2C365.1,368.0 365.5,369.5 365.9,372.3C366.3,375.2 366.9,380.6 367.3,384.4C367.7,388.1 368.1,391.5 368.5,394.7C368.9,397.8 369.4,401.7 369.7,403.3C369.9,404.9 369.7,403.3 370.0,404.2C370.3,405.0 370.9,407.2 371.4,408.5C371.9,409.7 372.5,411.2 373.1,411.9C373.7,412.6 374.2,412.7 374.8,412.8C375.4,412.8 376.3,412.4 376.9,412.2C377.4,412.1 377.7,413.0 378.1,411.9C378.5,410.8 379.0,407.2 379.5,405.9C379.9,404.6 380.3,403.6 380.7,404.2C381.0,404.7 381.3,407.3 381.7,409.3C382.1,411.3 382.6,414.8 382.9,416.2C383.2,417.5 383.4,418.4 383.8,417.4C384.1,416.4 384.5,414.2 384.8,410.2C385.1,406.1 385.5,397.3 385.8,393.0C386.2,388.7 386.5,386.0 386.9,384.4C387.2,382.7 387.7,382.8 388.1,383.0C388.4,383.1 388.6,384.2 388.9,385.2C389.2,386.3 389.4,388.8 389.8,389.2C390.1,389.6 390.6,387.3 391.0,387.8C391.4,388.3 391.6,390.7 392.0,392.1C392.4,393.5 392.9,396.6 393.2,396.4C393.6,396.3 393.8,392.7 394.1,391.2C394.4,389.8 394.8,387.6 395.1,387.5C395.5,387.3 395.8,389.0 396.2,390.4C396.5,391.7 396.8,394.5 397.2,395.5C397.6,396.6 398.0,396.8 398.4,396.4C398.8,396.0 399.2,393.4 399.6,393.0C400.0,392.5 400.3,393.3 400.6,393.8C401.0,394.4 401.4,396.4 401.8,396.4C402.2,396.4 402.7,394.5 403.0,393.8C403.4,393.1 403.7,392.3 404.1,392.1C404.4,392.0 404.9,392.5 405.3,393.0C405.7,393.4 406.0,394.7 406.5,394.7C406.9,394.7 407.4,393.0 407.8,393.0C408.3,393.0 408.8,394.3 409.2,394.7C409.7,395.1 410.0,395.8 410.4,395.5C410.8,395.3 411.3,393.8 411.6,393.0C412.0,392.1 412.3,391.0 412.7,390.4C413.0,389.8 413.5,389.2 413.9,389.2C414.3,389.2 414.9,390.2 415.1,390.4" fill="none" stroke="#f2b98c" stroke-width="1" stroke-linejoin="round"/>
<rect x="317" y="444" width="86" height="32" fill="#fff"/>
<line x1="318.8" y1="452.3" x2="334" y2="452.3" stroke="#a5c8e2" stroke-width="1"/>
<line x1="318.8" y1="467.5" x2="334" y2="467.5" stroke="#f2b98c" stroke-width="1"/>
<g font-size="11.3" fill="#5e5e5e">
<text x="336.8" y="456.2" textLength="62" lengthAdjust="spacingAndGlyphs">PBX 9501-8</text>
<text x="336.8" y="471.4" textLength="60" lengthAdjust="spacingAndGlyphs">HMX-HTPB</text>
<text x="80.8" y="509.9" text-anchor="end">0</text><text x="80.8" y="475.3" text-anchor="end">10000</text><text x="80.8" y="440.8" text-anchor="end">20000</text><text x="80.8" y="406.2" text-anchor="end">30000</text><text x="80.8" y="371.6" text-anchor="end">40000</text><text x="80.8" y="337.1" text-anchor="end">50000</text><text x="80.8" y="302.5" text-anchor="end">60000</text>
<text x="90.8" y="523.1" text-anchor="middle">0</text><text x="148.3" y="523.1" text-anchor="middle">50</text><text x="205.9" y="523.1" text-anchor="middle">100</text><text x="263.4" y="523.1" text-anchor="middle">150</text><text x="321.0" y="523.1" text-anchor="middle">200</text><text x="378.6" y="523.1" text-anchor="middle">250</text><text x="436.1" y="523.1" text-anchor="middle">300</text>
<text x="263.9" y="537.4" text-anchor="middle" font-size="11.6" textLength="120.6" lengthAdjust="spacingAndGlyphs">Distance (micrometers)</text>
<text transform="translate(36.8,402.6) rotate(-90)" text-anchor="middle" font-size="11" textLength="80" lengthAdjust="spacingAndGlyphs">Absorbance (arb)</text>
</g>
</svg>
</body></html>
